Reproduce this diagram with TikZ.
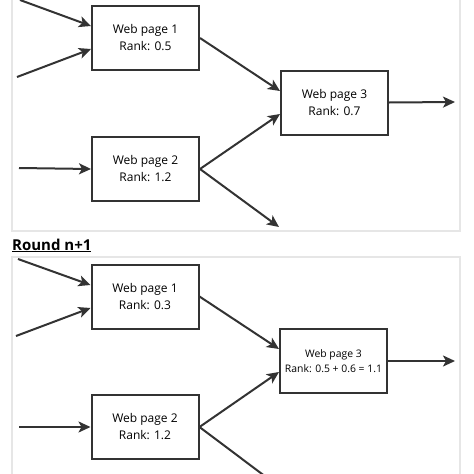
\documentclass[tikz,border=0pt]{standalone}
\usepackage{fontspec}
\setmainfont{Open Sans}
\usepackage{tikz}
\usetikzlibrary{arrows.meta}

\definecolor{ink}{HTML}{333333}
\definecolor{framegray}{HTML}{E6E6E6}

\begin{document}
\begin{tikzpicture}[x=1pt,y=-1pt,
        page/.style={draw=ink,line width=2pt,minimum width=107pt,minimum height=64pt,
            align=center,font=\fontsize{12}{17}\selectfont,inner sep=2pt},
        link/.style={draw=ink,line width=2pt,-{Stealth[length=12pt,width=11pt,inset=3pt]}},
        panel/.style={draw=framegray,line width=2.5pt}
        ]
        \useasboundingbox (0,0) rectangle (474,474);
        \clip (0,0) rectangle (474,474);

        %Frames of the two rounds
        \draw[panel] (12,-10) rectangle (460,231);
        \draw[panel] (12,257) rectangle (460,490);

        %Round n
        \node[page] (a1) at (145.5,38) {Web page 1\\Rank: 0.5};
        \node[page] (b1) at (145.5,169) {Web page 2\\Rank: 1.2};
        \node[page] (c1) at (334.5,102.5) {Web page 3\\Rank: 0.7};

        \coordinate (a1in1) at (20,0);
        \coordinate (a1in2) at (17,77);
        \coordinate (b1in) at (19,168);
        \coordinate (b1out) at (279,227);
        \coordinate (c1out) at (455,102);

        \draw[link] (a1in1) -- ([yshift=12pt]a1.west);
        \draw[link] (a1in2) -- ([yshift=-11pt]a1.west);
        \draw[link] (b1in) -- (b1.west);
        \draw[link] (a1.east) -- ([yshift=11.5pt]c1.west);
        \draw[link] (b1.east) -- ([yshift=-11.5pt]c1.west);
        \draw[link] (b1.east) -- (b1out);
        \draw[link] (c1.east) -- (c1out);

        %Round n+1
        \node[anchor=base west,inner sep=0pt,font=\fontsize{15}{18}\selectfont\bfseries] (title)
            at (12,250) {\underline{Round n+1}};

        \node[page] (a2) at (145,296.5) {Web page 1\\Rank: 0.3};
        \node[page] (b2) at (145,427) {Web page 2\\Rank: 1.2};
        \node[page,font=\fontsize{10.4}{15}\selectfont] (c2) at (333.5,361) {Web page 3\\Rank: 0.5 + 0.6 = 1.1};

        \coordinate (a2in1) at (18,259);
        \coordinate (a2in2) at (16,336);
        \coordinate (b2in) at (19,427);
        \coordinate (b2out) at (290,495);
        \coordinate (c2out) at (455,361);

        \draw[link] (a2in1) -- ([yshift=11.5pt]a2.west);
        \draw[link] (a2in2) -- ([yshift=-11.5pt]a2.west);
        \draw[link] (b2in) -- (b2.west);
        \draw[link] (a2.east) -- ([yshift=12pt]c2.west);
        \draw[link] (b2.east) -- ([yshift=-11pt]c2.west);
        \draw[link] (b2.east) -- (b2out);
        \draw[link] (c2.east) -- (c2out);
\end{tikzpicture}
\end{document}
